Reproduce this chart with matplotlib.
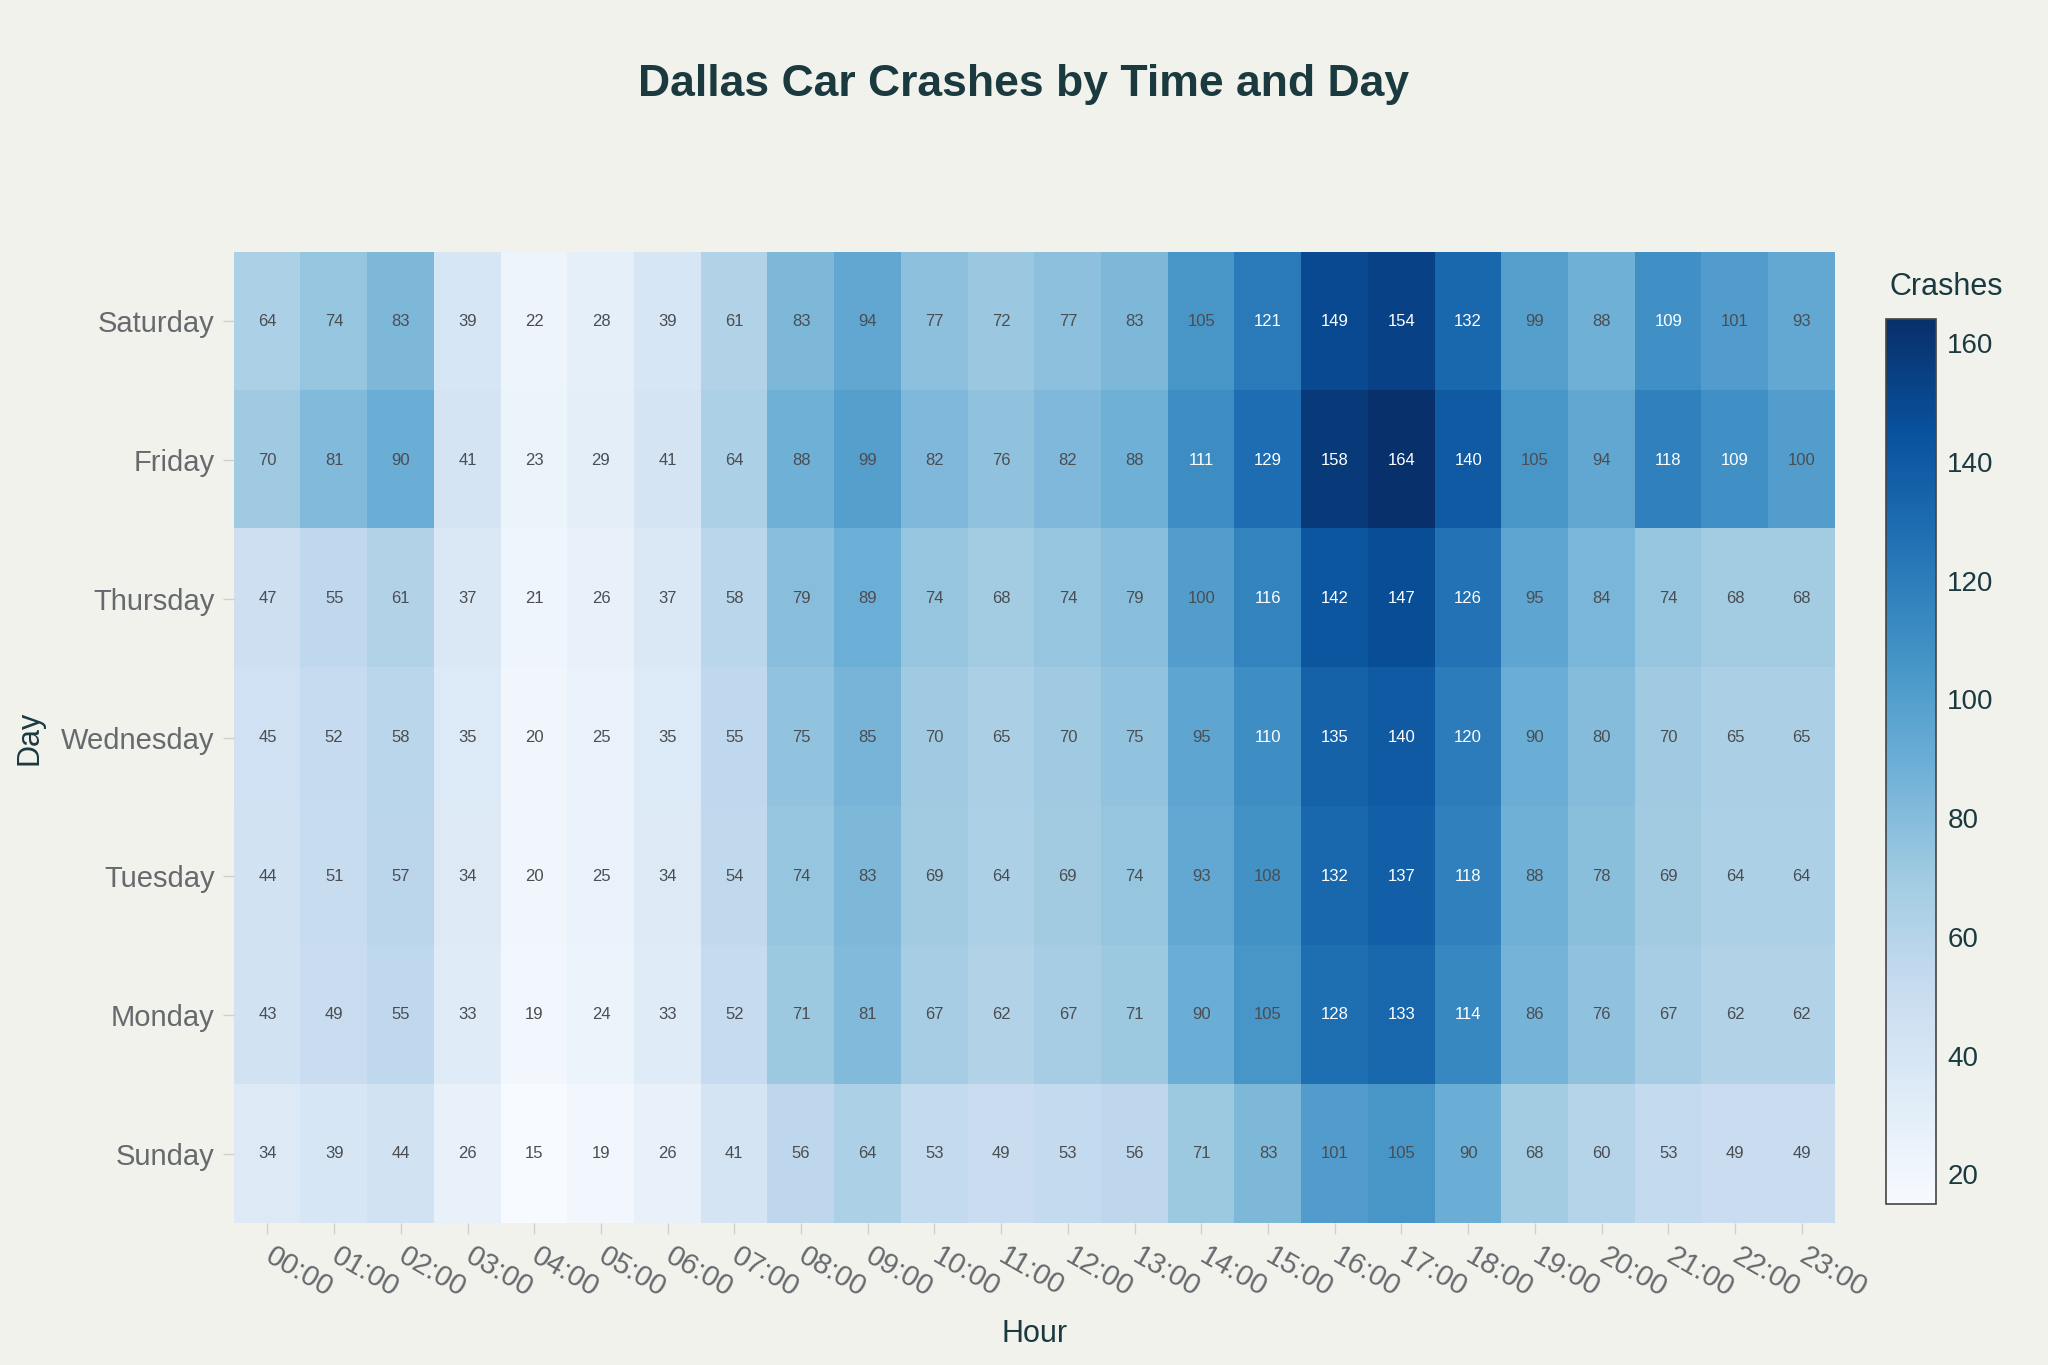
import numpy as np
import matplotlib
matplotlib.use("Agg")
import matplotlib.pyplot as plt

plt.rcParams['font.family'] = ['Liberation Sans', 'DejaVu Sans']

# Data
days = ["Saturday", "Friday", "Thursday", "Wednesday", "Tuesday", "Monday", "Sunday"]
hours = ["%02d:00" % h for h in range(24)]

saturday = [64, 74, 83, 39, 22, 28, 39, 61, 83, 94, 77, 72, 77, 83, 105, 121, 149, 154, 132, 99, 88, 109, 101, 93]
friday = [70, 81, 90, 41, 23, 29, 41, 64, 88, 99, 82, 76, 82, 88, 111, 129, 158, 164, 140, 105, 94, 118, 109, 100]
thursday = [47, 55, 61, 37, 21, 26, 37, 58, 79, 89, 74, 68, 74, 79, 100, 116, 142, 147, 126, 95, 84, 74, 68, 68]
wednesday = [45, 52, 58, 35, 20, 25, 35, 55, 75, 85, 70, 65, 70, 75, 95, 110, 135, 140, 120, 90, 80, 70, 65, 65]
tuesday = [44, 51, 57, 34, 20, 25, 34, 54, 74, 83, 69, 64, 69, 74, 93, 108, 132, 137, 118, 88, 78, 69, 64, 64]
monday = [43, 49, 55, 33, 19, 24, 33, 52, 71, 81, 67, 62, 67, 71, 90, 105, 128, 133, 114, 86, 76, 67, 62, 62]
sunday = [34, 39, 44, 26, 15, 19, 26, 41, 56, 64, 53, 49, 53, 56, 71, 83, 101, 105, 90, 68, 60, 53, 49, 49]

z = np.array([saturday, friday, thursday, wednesday, tuesday, monday, sunday])

bg = "#f2f2ed"
dark = "#1b3a3f"
grey = "#666a6e"

fig = plt.figure(figsize=(20.48, 13.65), dpi=100, facecolor=bg)
ax = fig.add_axes([0.1143, 0.104, 0.7817, 0.7114])
ax.set_facecolor(bg)

im = ax.imshow(z, cmap="Blues", aspect="auto", vmin=z.min(), vmax=z.max(),
               interpolation="nearest")

for i in range(z.shape[0]):
    for j in range(z.shape[1]):
        v = z[i, j]
        ax.text(j, i, str(v), ha="center", va="center", fontsize=12,
                color="white" if v > 108.5 else "#4a4d52")

ax.set_xticks(range(len(hours)))
ax.set_xticklabels(hours, rotation=-30, ha="left", va="center",
                   rotation_mode="anchor", fontsize=21, color=grey)
ax.set_yticks(range(len(days)))
ax.set_yticklabels(days, fontsize=21, color=grey)
ax.tick_params(axis="x", length=8, width=1, color="#cfcfcf", pad=14)
ax.tick_params(axis="y", length=8, width=1, color="#cfcfcf", pad=6)
for s in ax.spines.values():
    s.set_visible(False)

ax.set_xlabel("Hour", fontsize=22, color=dark, labelpad=12)
ax.set_ylabel("Day", fontsize=22, color=dark, labelpad=12)

cax = fig.add_axes([0.921, 0.118, 0.0244, 0.648])
cb = fig.colorbar(im, cax=cax)
cb.set_ticks([20, 40, 60, 80, 100, 120, 140, 160])
cb.ax.tick_params(length=0, labelsize=20, labelcolor=dark, pad=8)
cb.outline.set_edgecolor("#444444")
cb.outline.set_linewidth(1.2)
fig.text(0.9505, 0.79, "Crashes", ha="center", va="center", fontsize=22, color=dark)

fig.text(0.5, 0.938, "Dallas Car Crashes by Time and Day", ha="center", va="center",
         fontsize=32, fontweight="bold", color=dark)

fig.savefig("out.png", dpi=100, facecolor=bg)
